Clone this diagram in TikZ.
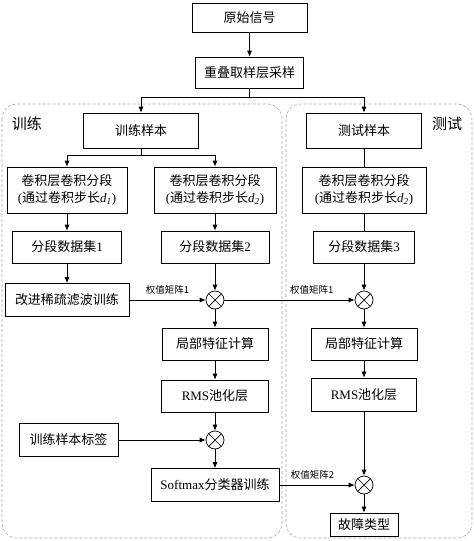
\documentclass[tikz,border=0pt]{standalone}
\usepackage{fontspec}
\setmainfont{Liberation Serif}
\newfontfamily\cjk{Noto Sans CJK SC}
\usetikzlibrary{arrows.meta}

\tikzset{
  blk/.style={draw, line width=0.7pt, inner sep=0pt, minimum height=32pt,
    font=\fontsize{13}{17}\selectfont, align=center},
  mul/.style={draw, circle, line width=0.7pt, minimum size=18pt, inner sep=0pt,
    path picture={\draw[line width=0.7pt]
      (path picture bounding box.north west) -- (path picture bounding box.south east)
      (path picture bounding box.north east) -- (path picture bounding box.south west);}},
  arr/.style={line width=0.7pt, -{Latex[length=6pt,width=5pt]}},
  lnk/.style={line width=0.7pt},
  grp/.style={draw=gray!70, densely dashed, line width=0.6pt, rounded corners=15pt},
  wlbl/.style={font=\fontsize{9.5}{11}\selectfont\cjk, inner sep=1pt},
  glbl/.style={font=\fontsize{15}{17}\selectfont\cjk},
}

\begin{document}
\begin{tikzpicture}[x=1pt,y=-1pt]
		\useasboundingbox (0,0) rectangle (474,541);

		% groups
		\draw[grp] (2,104) rectangle (282,538);
		\draw[grp] (286,104) rectangle (472,538);
		\node[glbl] (trn) at (27,124) {训练};
		\node[glbl] (tst) at (447,124) {测试};

		\node[blk, minimum width=115pt, minimum height=29pt] (raw) at (249.5,17.5) {\cjk 原始信号};
		\node[blk, minimum width=108pt, minimum height=31pt] (ovl) at (249.5,72.5) {\cjk 重叠取样层采样};
		\node[blk, minimum width=115pt, minimum height=35pt] (trs) at (141,130.5) {\cjk 训练样本};
		\node[blk, minimum width=115pt, minimum height=35pt] (tes) at (364,130.5) {\cjk 测试样本};

		\node[blk, minimum width=120pt, minimum height=46pt] (conv1) at (67,190)
			{{\cjk 卷积层卷积分段}\\({\cjk 通过卷积步长}\textit{d}\textsubscript{\textit{1}})};
		\node[blk, minimum width=122pt, minimum height=46pt] (conv2) at (215,190)
			{{\cjk 卷积层卷积分段}\\({\cjk 通过卷积步长}\textit{d}\textsubscript{\textit{2}})};
		\node[blk, minimum width=124pt, minimum height=46pt] (conv3) at (364,190)
			{{\cjk 卷积层卷积分段}\\({\cjk 通过卷积步长}\textit{d}\textsubscript{\textit{2}})};

		\node[blk, minimum width=109pt] (seg1) at (67,247) {{\cjk 分段数据集}1};
		\node[blk, minimum width=108pt] (seg2) at (215,247) {{\cjk 分段数据集}2};
		\node[blk, minimum width=101pt] (seg3) at (364,247) {{\cjk 分段数据集}3};

		\node[blk, minimum width=124pt, minimum height=33pt] (spf) at (67,300) {\cjk 改进稀疏滤波训练};
		\node[mul] (m1) at (215,300) {};
		\node[mul] (m2) at (364,300) {};

		\node[blk, minimum width=106pt] (loc1) at (215,344) {\cjk 局部特征计算};
		\node[blk, minimum width=106pt] (loc2) at (364,344) {\cjk 局部特征计算};
		\node[blk, minimum width=107pt] (rms1) at (215,396) {RMS{\cjk 池化层}};
		\node[blk, minimum width=105pt, minimum height=33pt] (rms2) at (364,394.5) {RMS{\cjk 池化层}};

		\node[mul] (m3) at (215,440) {};
		\node[blk, minimum width=99pt, minimum height=33pt] (lbl) at (68.5,440) {\cjk 训练样本标签};
		\node[blk, minimum width=128pt, minimum height=33pt] (sfm) at (215,485) {Softmax{\cjk 分类器训练}};
		\node[mul] (m4) at (364,485) {};
		\node[blk, minimum width=68pt, minimum height=23pt] (flt) at (364,524.5) {\cjk 故障类型};

		\coordinate (br1) at (249.5,97);
		\coordinate (br2) at (141,155);

		\draw[arr] (raw) -- (ovl);
		\draw[lnk] (ovl) -- (br1);
		\draw[arr] (br1) -| (trs);
		\draw[arr] (br1) -| (tes);
		\draw[lnk] (trs) -- (br2);
		\draw[arr] (br2) -| (conv1);
		\draw[arr] (br2) -| (conv2);

		\draw[lnk] (tes) -- (conv3);
		\draw[lnk] (conv3) -- (seg3);
		\draw[arr] (conv1) -- (seg1);
		\draw[arr] (seg1) -- (spf);
		\draw[arr] (conv2) -- (seg2);
		\draw[arr] (seg2) -- (m1);
		\draw[arr] (seg3) -- (m2);

		\draw[arr] (spf) -- node[wlbl, above=4pt] {权值矩阵1} (m1);
		\draw[arr] (m1) -- node[wlbl, above=4pt, pos=0.67] {权值矩阵1} (m2);

		\draw[arr] (m1) -- (loc1);
		\draw[arr] (m2) -- (loc2);
		\draw[arr] (loc1) -- (rms1);
		\draw[arr] (loc2) -- (rms2);
		\draw[arr] (rms1) -- (m3);
		\draw[arr] (lbl) -- (m3);
		\draw[arr] (m3) -- (sfm);
		\draw[arr] (rms2) -- (m4);
		\draw[arr] (sfm) -- node[wlbl, above=4pt, pos=0.44] {权值矩阵2} (m4);
		\draw[arr] (m4) -- (flt);
	\end{tikzpicture}
\end{document}
